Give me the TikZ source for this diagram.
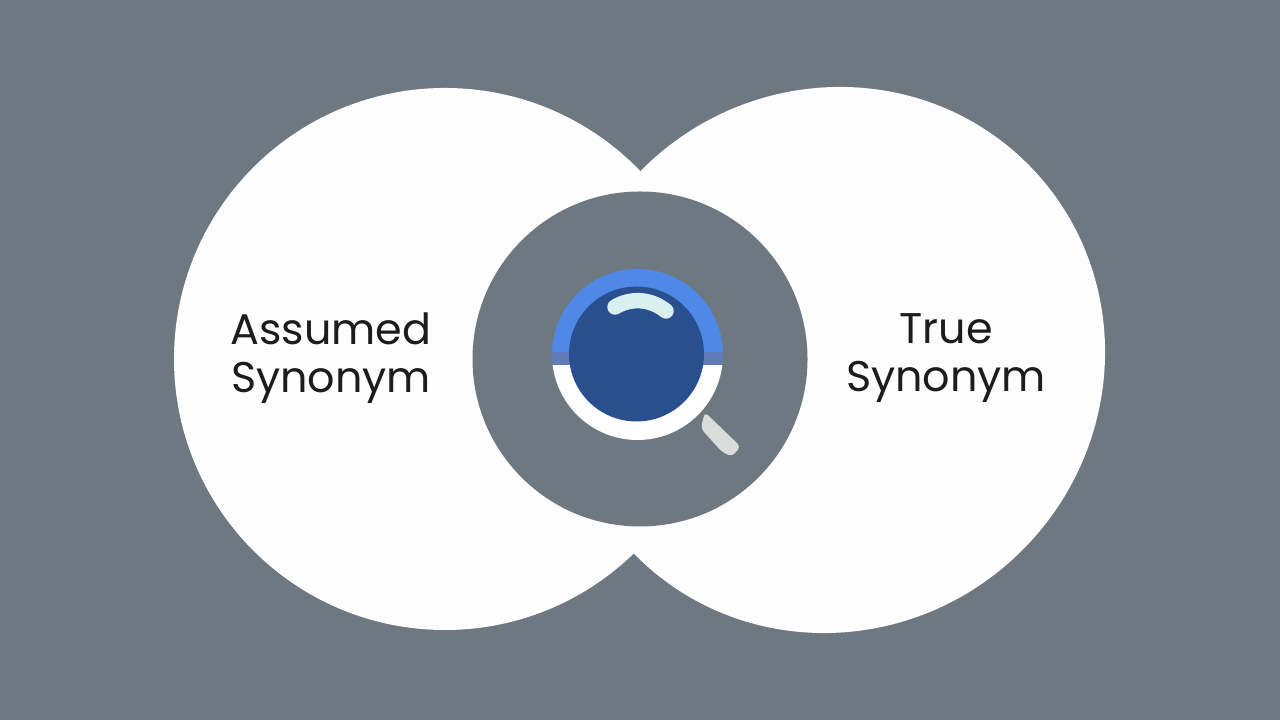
\documentclass[tikz,border=0pt]{standalone}
\usepackage{fontspec}
\setmainfont{Poppins}
\definecolor{slategrey}{HTML}{6E7881}
\definecolor{paperwhite}{HTML}{FDFDFD}
\definecolor{lensblue}{HTML}{5088E8}
\definecolor{bandblue}{HTML}{5F7CB8}
\definecolor{discblue}{HTML}{2A4F8F}
\definecolor{shineblue}{HTML}{D8F0F0}
\definecolor{handlegrey}{HTML}{DADCDA}
\definecolor{inkblack}{HTML}{1C1C1C}
\begin{document}
\begin{tikzpicture}
\tikzstyle{every node}=[font=\fontsize{12.2}{13.66}\selectfont,text=inkblack,align=center]

\fill[slategrey] (0,0) rectangle (12.8,7.2);

% big circles
\fill[paperwhite] (4.45,3.61) circle (2.71);
\fill[paperwhite] (8.32,3.60) ellipse [x radius=2.77,y radius=2.69,rotate=45];
\fill[slategrey] (6.40,3.61) circle (1.675);

% lens
\begin{scope}
\clip (6.375,3.655) circle (0.855);
\fill[white] (5.4,2.6) rectangle (7.4,3.55);
\fill[lensblue] (5.4,3.68) rectangle (7.4,4.7);
\fill[bandblue] (5.4,3.55) rectangle (7.4,3.68);
\end{scope}
\fill[discblue] (6.365,3.66) circle (0.675);

% shine on the glass
\draw[shineblue,line width=4.4pt,line cap=round] (6.15,4.13) .. controls (6.30,4.22) and (6.50,4.22) .. (6.66,4.09);

% handle
\fill[handlegrey,rounded corners=1.2pt] (7.05,3.077) -- (7.407,2.733) -- (7.317,2.633) -- (7.217,2.683) -- (7.007,2.917) -- (7.033,3.017) -- cycle;

% labels
\node (assumed) at (3.31,3.62) {Assumed\\Synonym};
\node (true) at (9.46,3.62) {True\\Synonym};
\end{tikzpicture}
\end{document}
